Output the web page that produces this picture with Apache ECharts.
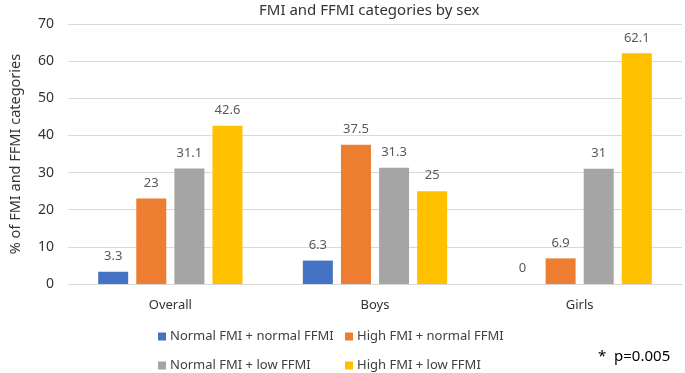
<!DOCTYPE html>
<html>
<head>
<meta charset="utf-8">
<script src="https://cdn.jsdelivr.net/npm/echarts@6/dist/echarts.min.js"></script>
<style>
  html, body { margin: 0; padding: 0; background: #fff; }
  #main { width: 685px; height: 373px; }
</style>
</head>
<body>
<div id="main"></div>
<script>
// groups on the x axis
var groups = ['Overall', 'Boys', 'Girls'];

// one array per FMI/FFMI category (% of group)
var normalFmiNormalFfmi = [3.3, 6.3, 0];
var highFmiNormalFfmi = [23, 37.5, 6.9];
var normalFmiLowFfmi = [31.1, 31.3, 31];
var highFmiLowFfmi = [42.6, 25, 62.1];

var seriesNames = [
    'Normal FMI + normal FFMI',
    'High FMI + normal FFMI',
    'Normal FMI + low FFMI',
    'High FMI + low FFMI'
];
var seriesValues = [normalFmiNormalFfmi, highFmiNormalFfmi, normalFmiLowFfmi, highFmiLowFfmi];
var colors = ['#4472C4', '#ED7D31', '#A5A5A5', '#FFC000'];

var font = 'Noto Sans';

var chart = echarts.init(document.getElementById('main'));

// legend laid out as a 2x2 grid, one legend per item
var legendPos = [
    { left: 158, top: 330 },
    { left: 345, top: 330 },
    { left: 158, top: 359 },
    { left: 345, top: 359 }
];
var legends = seriesNames.map(function (name, i) {
    return {
        data: [name],
        left: legendPos[i].left,
        top: legendPos[i].top,
        padding: 0,
        itemWidth: 8,
        itemHeight: 8,
        itemGap: 4,
        icon: 'rect',
        selectedMode: false,
        textStyle: { fontFamily: font, fontSize: 13, color: '#404040', padding: [0, 0, 0, -1] }
    };
});

var series = seriesNames.map(function (name, i) {
    return {
        name: name,
        type: 'bar',
        data: seriesValues[i],
        barWidth: 30,
        barGap: '27%',
        itemStyle: { color: colors[i] },
        label: {
            show: true,
            position: 'top',
            distance: 9,
            fontFamily: font,
            fontSize: 13,
            color: '#595959'
        }
    };
});

chart.setOption({
    animation: false,
    title: {
        text: 'FMI and FFMI categories by sex',
        left: 259,
        top: 3,
        padding: 0,
        textStyle: { fontFamily: font, fontSize: 15, fontWeight: 'normal', color: '#333' }
    },
    legend: legends,
    grid: { left: 51, right: 3, top: 24, bottom: 89, containLabel: false },
    xAxis: {
        type: 'category',
        data: groups,
        axisLine: { lineStyle: { color: '#d9d9d9' } },
        axisTick: { show: false },
        axisLabel: { fontFamily: font, fontSize: 13, color: '#333', margin: 15 }
    },
    yAxis: {
        type: 'value',
        min: 0,
        max: 70,
        interval: 10,
        name: '% of FMI and FFMI categories',
        nameLocation: 'middle',
        nameGap: 45,
        nameTextStyle: { fontFamily: font, fontSize: 14.5, color: '#333' },
        axisLine: { show: false },
        axisTick: { show: false },
        axisLabel: { fontFamily: font, fontSize: 14, color: '#333', margin: 14 },
        splitLine: { lineStyle: { color: '#d9d9d9' } }
    },
    graphic: [{
        type: 'text',
        left: 598,
        top: 349,
        style: { text: '*  p=0.005', font: '15px "Noto Sans"', fill: '#000' }
    }],
    series: series
});
</script>
</body>
</html>
